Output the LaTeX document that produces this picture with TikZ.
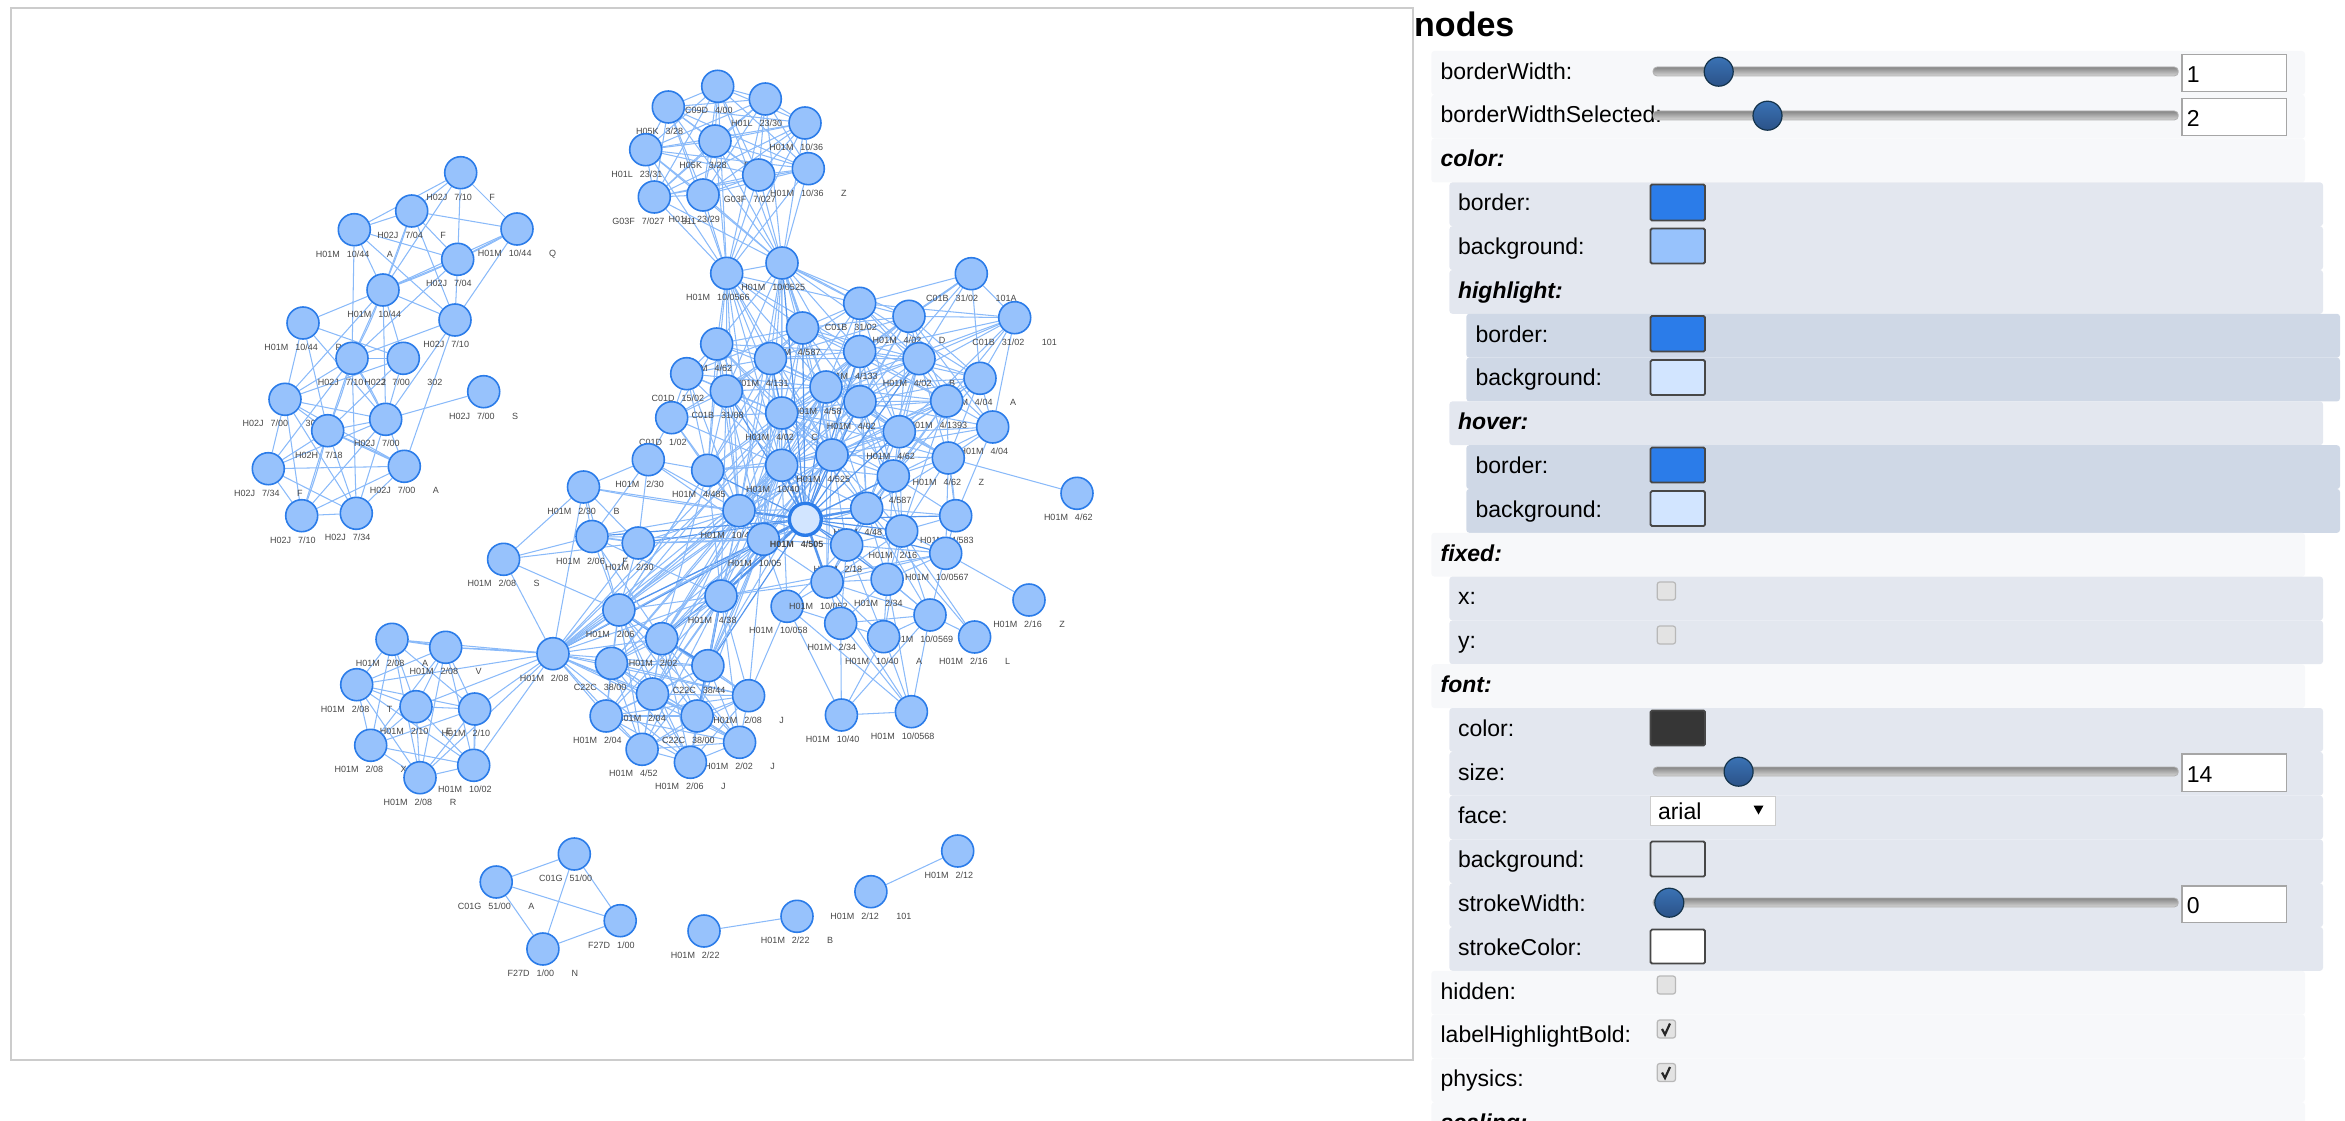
\documentclass[tikz,border=0pt]{standalone}
\usepackage{fontspec}
\setmainfont{Liberation Sans}
\usetikzlibrary{backgrounds}
\definecolor{nodeline}{HTML}{2B7CE9}
\definecolor{nodefill}{HTML}{97C2FC}
\definecolor{nodesel}{HTML}{D2E5FF}
\definecolor{linkcol}{HTML}{8ABAF9}
\definecolor{hlcol}{HTML}{5596EE}
\definecolor{rowone}{HTML}{F7F8FA}
\definecolor{rowtwo}{HTML}{E3E7EF}
\definecolor{rowthree}{HTML}{CFD8E6}
\definecolor{thumbtop}{HTML}{3A72B4}
\definecolor{thumbbot}{HTML}{2B5288}
\definecolor{thumbline}{HTML}{14334B}
\newcommand{\nlab}[3]{#1\hspace{7pt}#2\hspace{17.5pt}#3\null}
\tikzset{
  gnode/.style={circle,draw=nodeline,fill=nodefill,line width=1.6pt,minimum size=32pt,inner sep=0pt},
  lbl/.style={inner sep=0pt,text=black!72,label distance=4pt,font=\fontsize{9}{10}\selectfont},
  gn/.style n args={3}{gnode,label={[lbl]below:\nlab{#1}{#2}{#3}}},
  selnode/.style={fill=nodesel,line width=3.4pt},
  link/.style={draw=linkcol,line width=1.05pt},
  hl/.style={draw=hlcol,line width=1.2pt},
  heavy/.style={draw=hlcol,line width=2.4pt},
  txt/.style={anchor=base west,inner sep=0pt,yshift=-1.2pt,font=\fontsize{23}{26}\selectfont},
  head/.style={txt,font=\fontsize{23}{26}\selectfont\bfseries\itshape},
  rowa/.style={fill=rowone,rounded corners=3pt},
  rowb/.style={fill=rowtwo,rounded corners=3pt},
  rowc/.style={fill=rowthree,rounded corners=3pt},
  track/.style={draw=black!30,top color=black!48,middle color=black!20,bottom color=black!16,rounded corners=4pt,line width=.8pt},
  thumb/.style={circle,draw=thumbline,top color=thumbtop,bottom color=thumbbot,minimum size=29pt,inner sep=0pt,line width=1.2pt},
  numbox/.style={draw=black!35,fill=white,line width=1.2pt},
  swatch/.style={draw=black!72,line width=1.8pt,rounded corners=1.5pt},
  tick/.style={draw=black!28,fill=black!11,line width=1.2pt,rounded corners=2.5pt},
}
\begin{document}
\begin{tikzpicture}[x=1pt,y=-1pt]
    \useasboundingbox (0,0) rectangle (2345,1121);
    \clip (0,0) rectangle (2345,1121);
    \draw[black!20,line width=1.6pt] (11,8) rectangle (1413,1060);
    % left group
    \node[gn={H02J}{7/10}{F}] (a_1) at (460.7,172.7) {};
    \node[gn={H02J}{7/04}{F}] (a_2) at (411.7,211) {};
    \node[gn={H01M}{10/44}{A}] (a_3) at (354.3,229.7) {};
    \node[gn={H01M}{10/44}{Q}] (a_4) at (517,229) {};
    \node[gn={H02J}{7/04}{}] (a_5) at (457.7,259.3) {};
    \node[gn={H01M}{10/44}{}] (a_6) at (383,290) {};
    \node[gn={H02J}{7/10}{}] (a_7) at (455,320) {};
    \node[gn={H01M}{10/44}{P}] (a_8) at (303,323) {};
    \node[gn={H02J}{7/10}{2}] (a_9) at (352,358.3) {};
    \node[gn={H02J}{7/00}{302}] (a_10) at (403.3,358.3) {};
    \node[gn={H02J}{7/00}{S}] (a_11) at (483.7,391.7) {};
    \node[gn={H02J}{7/00}{302D}] (a_12) at (285,399.3) {};
    \node[gn={H02J}{7/00}{}] (a_13) at (385.7,419.3) {};
    \node[gn={H02H}{7/18}{}] (a_14) at (327.7,430.7) {};
    \node[gn={H02J}{7/00}{A}] (a_15) at (404.3,466.3) {};
    \node[gn={H02J}{7/34}{F}] (a_16) at (268.3,468.7) {};
    \node[gn={H02J}{7/10}{}] (a_17) at (301.7,515.7) {};
    \node[gn={H02J}{7/34}{}] (a_18) at (356.3,513.3) {};
    % top group
    \node[gn={C09D}{4/00}{}] (b_1) at (717.7,86.3) {};
    \node[gn={H05K}{3/28}{}] (b_2) at (668.3,107) {};
    \node[gn={H01L}{23/30}{}] (b_3) at (765.3,99) {};
    \node[gn={H01M}{10/36}{}] (b_4) at (805,123) {};
    \node[gn={H01L}{23/31}{}] (b_5) at (645.7,149.7) {};
    \node[gn={H05K}{3/28}{D}] (b_6) at (715,141) {};
    \node[gn={H01M}{10/36}{Z}] (b_7) at (808.3,168.7) {};
    \node[gn={G03F}{7/027}{}] (b_8) at (758.7,175) {};
    \node[gn={G03F}{7/027}{311}] (b_9) at (654.3,197) {};
    \node[gn={H01L}{23/29}{}] (b_10) at (703,195) {};
    \node[gn={H01M}{10/0566}{}] (b_11) at (726.7,273.3) {};
    \node[gn={H01M}{10/0525}{}] (b_12) at (782,263) {};
    % centre group
    \node[gn={C01B}{31/02}{101A}] (c_1) at (971.3,273.7) {};
    \node[gn={C01B}{31/02}{}] (c_2) at (859.7,303.3) {};
    \node[gn={H01M}{4/02}{D}] (c_3) at (909,316.3) {};
    \node[gn={C01B}{31/02}{101}] (c_4) at (1014.7,317.7) {};
    \node[gn={H01M}{4/587}{}] (c_5) at (802.5,328) {};
    \node[gn={H01M}{4/62}{}] (c_6) at (716.7,344) {};
    \node[gn={H01M}{4/131}{}] (c_7) at (770.5,358.5) {};
    \node[gn={H01M}{4/133}{}] (c_8) at (859.7,351.5) {};
    \node[gn={H01M}{4/02}{B}] (c_9) at (919,358.7) {};
    \node[gn={C01D}{15/02}{}] (c_10) at (686.7,373.7) {};
    \node[gn={H01M}{4/04}{A}] (c_11) at (980,378.3) {};
    \node[gn={C01B}{31/08}{}] (c_12) at (726.3,391) {};
    \node[gn={H01M}{4/58}{}] (c_13) at (826,387) {};
    \node[gn={H01M}{4/02}{}] (c_14) at (860,401.7) {};
    \node[gn={H01M}{4/1393}{}] (c_15) at (946.7,401) {};
    \node[gn={H01M}{4/02}{C}] (c_16) at (781.7,413) {};
    \node[gn={C01D}{1/02}{}] (c_17) at (671.7,417.7) {};
    \node[gn={H01M}{4/04}{}] (c_18) at (992.7,427) {};
    \node[gn={H01M}{4/62}{}] (c_19) at (899.3,431.7) {};
    \node[gn={H01M}{4/62}{Z}] (c_20) at (948.3,458) {};
    \node[gn={H01M}{4/525}{}] (c_21) at (832,455) {};
    \node[gn={H01M}{10/40}{}] (c_22) at (781.7,465.3) {};
    \node[gn={H01M}{2/30}{}] (c_23) at (648.3,459.7) {};
    \node[gn={H01M}{4/485}{}] (c_24) at (707.7,470.3) {};
    \node[gn={H01M}{4/587}{}] (c_25) at (893.3,476) {};
    \node[gn={H01M}{10/40}{Z}] (c_26) at (739,510.7) {};
    \node[gn={H01M}{4/48}{}] (c_28) at (866.7,508.3) {};
    \node[gn={H01M}{4/583}{}] (c_29) at (955.7,515.7) {};
    \node[gn={H01M}{2/16}{}] (c_30) at (901.7,531) {};
    \node[gn={H01M}{10/05}{}] (c_31) at (763.3,539.3) {};
    \node[gn={H01M}{2/18}{}] (c_32) at (846.7,545) {};
    \node[gn={H01M}{10/0567}{}] (c_33) at (945.7,553.3) {};
    \node[gn={H01M}{4/62}{}] (c_34) at (1077,493.3) {};
    \node[gn={\textbf{H01M}}{\textbf{4/505}}{},selnode] (c_27) at (805.3,519.3) {};
    % lower group
    \node[gn={H01M}{2/30}{B}] (d_1) at (583.5,487) {};
    \node[gn={H01M}{2/06}{F}] (d_2) at (592,536.5) {};
    \node[gn={H01M}{2/30}{}] (d_3) at (638.2,543) {};
    \node[gn={H01M}{2/08}{S}] (d_4) at (503.6,559.3) {};
    \node[gn={H01M}{4/38}{}] (d_5) at (721,596) {};
    \node[gn={H01M}{2/06}{}] (d_6) at (618.9,610) {};
    \node[gn={H01M}{10/058}{}] (d_7) at (787.1,606.3) {};
    \node[gn={H01M}{10/052}{}] (d_8) at (827.1,582) {};
    \node[gn={H01M}{2/34}{}] (d_9) at (887.1,579.3) {};
    \node[gn={H01M}{10/0569}{}] (d_10) at (930,615) {};
    \node[gn={H01M}{2/34}{}] (d_11) at (840.7,623.3) {};
    \node[gn={H01M}{10/40}{A}] (d_12) at (883.6,636.7) {};
    \node[gn={H01M}{2/16}{L}] (d_13) at (974.6,637) {};
    \node[gn={H01M}{2/16}{Z}] (d_14) at (1029,600) {};
    \node[gn={H01M}{2/08}{}] (d_15) at (553,653.7) {};
    \node[gn={C22C}{38/00}{3}] (d_17) at (611.4,663.3) {};
    \node[gn={H01M}{2/02}{}] (d_16) at (661.8,638.7) {};
    \node[gn={C22C}{38/44}{}] (d_18) at (707.9,665.7) {};
    \node[gn={H01M}{2/04}{J}] (d_19) at (652.5,694) {};
    \node[gn={H01M}{2/08}{J}] (d_20) at (748.6,695.7) {};
    \node[gn={H01M}{2/04}{}] (d_21) at (606.1,716) {};
    \node[gn={C22C}{38/00}{}] (d_22) at (697.1,716) {};
    \node[gn={H01M}{10/40}{}] (d_23) at (841.4,715) {};
    \node[gn={H01M}{10/0568}{}] (d_24) at (911.4,711.7) {};
    \node[gn={H01M}{2/02}{J}] (d_25) at (739.6,742.3) {};
    \node[gn={H01M}{4/52}{}] (d_26) at (642.1,749.3) {};
    \node[gn={H01M}{2/06}{J}] (d_27) at (690.4,762.3) {};
    % lower left group
    \node[gn={H01M}{2/08}{A}] (f_1) at (392,639.3) {};
    \node[gn={H01M}{2/08}{V}] (f_2) at (445.7,647.3) {};
    \node[gn={H01M}{2/08}{T}] (f_3) at (356.7,684.7) {};
    \node[gn={H01M}{2/10}{E}] (f_4) at (416,706.7) {};
    \node[gn={H01M}{2/10}{}] (f_5) at (474.7,709) {};
    \node[gn={H01M}{2/08}{X}] (f_6) at (370.7,745.3) {};
    \node[gn={H01M}{10/02}{}] (f_7) at (473.7,765.3) {};
    \node[gn={H01M}{2/08}{R}] (f_8) at (420,777.7) {};
    % small groups
    \node[gn={C01G}{51/00}{A}] (g_1) at (496.2,882) {};
    \node[gn={C01G}{51/00}{}] (g_2) at (574.3,854) {};
    \node[gn={F27D}{1/00}{}] (g_3) at (620.2,920.7) {};
    \node[gn={F27D}{1/00}{N}] (g_4) at (542.9,949) {};
    \node[gn={H01M}{2/22}{}] (g_5) at (704,931) {};
    \node[gn={H01M}{2/22}{B}] (g_6) at (797,916.3) {};
    \node[gn={H01M}{2/12}{101}] (g_7) at (870.9,891.7) {};
    \node[gn={H01M}{2/12}{}] (g_8) at (957.7,851) {};
    \begin{pgfonlayer}{background}
    \path[link]
      (a_1) edge (a_2) edge (a_3) edge (a_4) edge (a_5) edge (a_6)
      (a_2) edge (a_3) edge (a_4) edge (a_5) edge (a_6) edge [bend left=2] (a_6) edge (a_7)
      (a_3) edge (a_5) edge (a_6) edge (a_7) edge (a_9)
      (a_4) edge (a_5) edge [bend left=2] (a_5) edge (a_6) edge (a_7)
      (a_5) edge (a_6) edge [bend left=2] (a_6) edge (a_7) edge (a_9)
      (a_6) edge (a_7) edge (a_8) edge (a_9) edge [bend left=3] (a_9) edge (a_10) edge (a_13) edge (a_12)
      (a_7) edge (a_9) edge (a_13) edge (a_15)
      (a_8) edge (a_10) edge (a_12) edge (a_14) edge (a_13)
      (a_9) edge (a_10) edge (a_12) edge (a_13) edge [bend left=3] (a_13) edge (a_14) edge [bend left=3] (a_14) edge (a_16) edge (a_18)
      (a_10) edge (a_12) edge (a_13) edge (a_14)
      (a_11) edge (a_13)
      (a_12) edge (a_13) edge (a_14) edge (a_15) edge (a_16) edge (a_17) edge (a_18)
      (a_13) edge (a_14) edge (a_15) edge (a_16) edge (a_17) edge (a_18)
      (a_14) edge (a_15) edge [bend left=2] (a_15) edge (a_16) edge (a_17) edge [bend left=3] (a_17) edge (a_18)
      (a_15) edge (a_16) edge (a_17) edge (a_18)
      (a_16) edge (a_17) edge (a_18)
      (a_17) edge (a_18);
    \path[link]
      (b_1) edge (b_2) edge (b_3) edge (b_4) edge (b_5) edge (b_6) edge (b_7) edge (b_8) edge (b_9) edge (b_10) edge (b_11) edge (b_12)
      (b_2) edge (b_3) edge (b_4) edge (b_5) edge (b_6) edge (b_7) edge (b_8) edge (b_9) edge (b_10) edge (b_11) edge (b_12)
      (b_3) edge (b_4) edge (b_5) edge (b_6) edge (b_7) edge (b_8) edge (b_9) edge (b_10) edge (b_11) edge (b_12)
      (b_4) edge (b_5) edge (b_6) edge (b_7) edge (b_8) edge (b_9) edge (b_10) edge (b_11) edge (b_12)
      (b_5) edge (b_6) edge (b_7) edge (b_8) edge (b_9) edge (b_10) edge (b_11) edge (b_12)
      (b_6) edge (b_7) edge (b_8) edge (b_9) edge (b_10) edge (b_11) edge (b_12)
      (b_7) edge (b_8) edge (b_9) edge (b_10) edge (b_11) edge (b_12)
      (b_8) edge (b_9) edge (b_10) edge (b_11) edge (b_12)
      (b_9) edge (b_10) edge (b_11) edge (b_12)
      (b_10) edge (b_11) edge (b_12)
      (b_11) edge (b_12) edge (c_6) edge (c_7) edge (c_5) edge (c_12) edge (c_16) edge (c_13) edge (c_22) edge (c_24) edge (c_26) edge (c_31) edge (c_8) edge (c_21) edge (c_2)
      (b_12) edge (c_2) edge [bend left=2] (c_2) edge (c_5) edge [bend left=2] (c_5) edge (c_3) edge (c_8) edge (c_7) edge (c_6) edge (c_13) edge (c_16) edge (c_21) edge (c_14) edge (c_9) edge (c_22) edge (c_26) edge (c_31) edge (c_12);
    \path[link]
      (c_1) edge (c_2) edge (c_3) edge [bend left=2] (c_3) edge (c_4) edge (c_8) edge (c_9) edge (c_11) edge (c_14)
      (c_2) edge (c_3) edge (c_4) edge (c_5) edge (c_7) edge (c_8) edge (c_9) edge (c_11) edge (c_13) edge (c_14) edge (c_15) edge (c_16) edge (c_19) edge (c_21)
      (c_3) edge (c_4) edge (c_5) edge (c_7) edge (c_8) edge (c_9) edge (c_11) edge (c_13) edge (c_14) edge (c_15) edge (c_16) edge (c_18) edge (c_19) edge (c_21) edge (c_22)
      (c_4) edge (c_8) edge (c_9) edge (c_11) edge (c_14) edge (c_15) edge (c_18) edge (c_19) edge (c_13)
      (c_5) edge (c_6) edge (c_7) edge (c_8) edge (c_9) edge (c_12) edge (c_13) edge (c_14) edge (c_16) edge (c_21) edge (c_22) edge (c_24) edge (c_10) edge (c_15)
      (c_6) edge (c_7) edge (c_8) edge (c_10) edge (c_12) edge (c_13) edge (c_16) edge (c_17) edge (c_22) edge (c_26) edge (c_24) edge (c_21)
      (c_7) edge (c_8) edge (c_9) edge (c_10) edge (c_12) edge (c_13) edge (c_14) edge (c_16) edge (c_21) edge (c_22) edge (c_24) edge (c_26) edge (c_31) edge (c_17)
      (c_8) edge (c_9) edge (c_11) edge (c_13) edge (c_14) edge (c_15) edge (c_16) edge (c_19) edge (c_21) edge (c_22) edge (c_25) edge (c_26) edge (c_28)
      (c_9) edge (c_11) edge (c_13) edge (c_14) edge (c_15) edge (c_16) edge (c_18) edge (c_19) edge (c_20) edge (c_21) edge (c_25) edge (c_28)
      (c_10) edge (c_12) edge (c_16) edge (c_17) edge (c_24) edge (c_22) edge (c_13) edge (c_26)
      (c_11) edge (c_14) edge (c_15) edge (c_18) edge (c_19) edge (c_20) edge (c_13) edge (c_25) edge (c_21)
      (c_12) edge (c_13) edge (c_16) edge (c_17) edge (c_22) edge (c_24) edge (c_26) edge (c_31) edge (c_21) edge (d_5)
      (c_13) edge (c_14) edge (c_15) edge (c_16) edge (c_19) edge (c_20) edge (c_21) edge (c_22) edge (c_24) edge (c_25) edge (c_26) edge (c_28) edge (c_31) edge (d_8)
      (c_14) edge (c_15) edge (c_16) edge (c_18) edge (c_19) edge (c_20) edge (c_21) edge (c_22) edge (c_25) edge (c_26) edge (c_28) edge (c_30) edge (c_31)
      (c_15) edge (c_16) edge (c_18) edge (c_19) edge (c_20) edge (c_21) edge (c_25) edge (c_28) edge (c_30) edge (c_22)
      (c_16) edge (c_17) edge (c_19) edge (c_20) edge (c_21) edge (c_22) edge (c_24) edge (c_25) edge (c_26) edge (c_28) edge (c_31) edge (d_5)
      (c_17) edge (c_23) edge (c_24) edge (c_22) edge (c_26)
      (c_18) edge (c_19) edge (c_20) edge (c_25) edge (c_29) edge (c_21)
      (c_19) edge (c_20) edge (c_21) edge (c_22) edge (c_25) edge (c_28) edge (c_26) edge (c_30)
      (c_20) edge (c_21) edge (c_25) edge (c_29) edge [bend left=2] (c_29) edge (c_30) edge (c_33) edge (c_28) edge (c_34)
      (c_21) edge (c_22) edge (c_24) edge (c_25) edge (c_26) edge (c_28) edge (c_30) edge (c_31) edge (c_32) edge (d_5) edge (d_8)
      (c_22) edge (c_24) edge (c_25) edge (c_26) edge (c_28) edge (c_31) edge (c_32) edge (d_5) edge (d_6) edge (d_7)
      (c_23) edge (c_24) edge (c_26) edge (c_31) edge (d_1) edge (d_2) edge (d_3)
      (c_24) edge (c_26) edge (c_31) edge (c_22) edge (d_5) edge (d_6) edge (d_16)
      (c_25) edge (c_28) edge (c_30) edge (c_29) edge (c_31) edge (d_8) edge (c_32) edge (d_9)
      (c_26) edge (c_28) edge (c_31) edge (c_32) edge (d_1) edge [bend left=2] (d_1) edge (d_2) edge (d_3) edge (d_5) edge (d_6) edge (d_15) edge (d_16) edge (d_18) edge (d_17) edge (d_19)
      (c_28) edge (c_29) edge (c_30) edge (c_32) edge (c_31) edge (d_8) edge (d_9) edge (d_10) edge (d_13)
      (c_29) edge (c_30) edge (c_33)
      (c_30) edge (c_32) edge (c_33) edge (d_8) edge (d_9) edge (d_10) edge (d_12) edge (d_13)
      (c_31) edge (c_32) edge (d_2) edge (d_3) edge [bend left=1] (d_3) edge (d_5) edge [bend left=2] (d_5) edge (d_6) edge (d_7) edge (d_8) edge (d_15) edge (d_16) edge (d_17) edge (d_18) edge [bend left=2] (d_18) edge (d_19) edge (d_20) edge (d_22)
      (c_32) edge (c_33) edge (d_7) edge (d_8) edge (d_9) edge (d_10) edge (d_11) edge (d_12)
      (c_33) edge (d_8) edge (d_9) edge (d_10) edge (d_14) edge (d_5);
    \path[hl]
      (c_27) edge (c_21) edge (c_13) edge (c_16) edge (c_14) edge (c_24) edge (c_30) edge (c_32) edge (c_25) edge (c_8) edge (c_19) edge (c_29) edge (c_33) edge (d_9) edge (d_6) edge (d_16) edge (d_15) edge (d_18) edge (c_12) edge (c_5) edge (c_7) edge (c_9) edge (d_2) edge (d_3) edge (b_12);
    \path[heavy] (c_27) edge (c_26) edge (c_31) edge (c_22) edge (c_28) edge (d_8) edge (d_5);
    \path[link]
      (d_1) edge (d_2) edge (d_3) edge (d_4) edge (d_6) edge (d_15)
      (d_2) edge (d_3) edge [bend left=2] (d_3) edge (d_4) edge (d_5) edge (d_6) edge (d_16)
      (d_3) edge (d_6) edge (d_15)
      (d_4) edge (d_3) edge (d_6) edge (d_15)
      (d_5) edge (d_6) edge (d_15) edge (d_16) edge (d_17) edge [heavy] (d_18) edge (d_19) edge (d_20) edge (d_21) edge (d_22) edge (d_25) edge (d_26) edge (d_27) edge (d_8)
      (d_6) edge (d_15) edge [bend left=2] (d_15) edge [heavy] (d_16) edge (d_17) edge (d_18) edge (d_19) edge (d_20) edge (d_21) edge (d_22) edge (d_25) edge (d_26) edge (d_27) edge (c_22) edge (c_21) edge (c_16) edge (c_24)
      (d_7) edge (d_11) edge (d_23) edge (d_24) edge (d_20)
      (d_8) edge (d_9) edge (d_10) edge (d_11) edge (d_12) edge (d_24) edge (d_7)
      (d_9) edge (d_10) edge (d_11) edge (d_12) edge (d_24)
      (d_10) edge (d_11) edge (d_12) edge (d_13) edge (d_23) edge (d_24)
      (d_11) edge (d_12) edge (d_23) edge (d_24)
      (d_12) edge (d_23) edge (d_24)
      (d_23) edge (d_24)
      (d_15) edge (d_16) edge (d_17) edge (d_18) edge (d_19) edge (d_20) edge (d_21) edge (d_22) edge (d_25) edge (d_26) edge (d_27) edge (c_31) edge (c_22) edge (c_21) edge (c_16) edge (c_13)
      (d_16) edge (d_17) edge [heavy] (d_18) edge (d_19) edge (d_20) edge (d_21) edge (d_22) edge (d_25) edge (d_26) edge (d_27) edge (c_22) edge (c_21) edge (c_13)
      (d_17) edge (d_18) edge (d_19) edge (d_20) edge (d_21) edge (d_22) edge (d_25) edge (d_26) edge (d_27) edge (c_22)
      (d_18) edge (d_19) edge (d_20) edge (d_21) edge [heavy] (d_22) edge (d_25) edge (d_26) edge (d_27) edge (c_22) edge (c_21)
      (d_19) edge (d_20) edge (d_21) edge (d_22) edge (d_25) edge (d_26) edge (d_27) edge (c_22)
      (d_20) edge (d_21) edge (d_22) edge (d_25) edge (d_26) edge (d_27)
      (d_21) edge (d_22) edge (d_25) edge (d_26) edge (d_27)
      (d_22) edge (d_25) edge (d_26) edge (d_27)
      (d_25) edge (d_26) edge (d_27)
      (d_26) edge (d_27);
    \path[link]
      (f_1) edge (f_2) edge [bend left=2] (f_2) edge (f_3) edge (f_4) edge (f_5) edge (f_6) edge (f_8) edge (d_15)
      (f_2) edge (f_3) edge (f_4) edge (f_5) edge (f_6) edge (f_7) edge (f_8) edge (d_15) edge [bend left=1] (d_15)
      (f_3) edge (f_4) edge (f_5) edge (f_6) edge (f_7) edge (f_8) edge (d_15)
      (f_4) edge (f_5) edge (f_6) edge (f_7) edge (f_8) edge (d_15)
      (f_5) edge (f_6) edge (f_7) edge [bend left=2] (f_7) edge (f_8) edge (d_15)
      (f_6) edge (f_7) edge (f_8)
      (f_7) edge (f_8) edge (d_15)
      (f_8) edge (d_15);
    \path[link]
      (g_1) edge (g_2) edge (g_3) edge (g_4)
      (g_2) edge (g_3) edge (g_4)
      (g_3) edge (g_4)
      (g_5) edge (g_6)
      (g_7) edge (g_8);
    \end{pgfonlayer}
    % option panel
    \node[anchor=base west,inner sep=0pt,font=\fontsize{34}{36}\selectfont\bfseries] (title) at (1414,37) {nodes};
    \fill[rowa] (1431.3,51) rectangle (2305,94.8);
    \fill[rowa] (1431.3,94.8) rectangle (2305,138.6);
    \fill[rowa] (1431.3,138.6) rectangle (2305,182.4);
    \fill[rowb] (1449.4,182.4) rectangle (2323,226.2);
    \fill[rowb] (1449.4,226.2) rectangle (2323,270);
    \fill[rowb] (1449.4,270) rectangle (2323,313.8);
    \fill[rowc] (1466.3,313.8) rectangle (2340,357.6);
    \fill[rowc] (1466.3,357.6) rectangle (2340,401.4);
    \fill[rowb] (1449.4,401.4) rectangle (2323,445.2);
    \fill[rowc] (1466.3,445.2) rectangle (2340,489);
    \fill[rowc] (1466.3,489) rectangle (2340,532.8);
    \fill[rowa] (1431.3,532.8) rectangle (2305,576.6);
    \fill[rowb] (1449.4,576.6) rectangle (2323,620.4);
    \fill[rowb] (1449.4,620.4) rectangle (2323,664.2);
    \fill[rowa] (1431.3,664.2) rectangle (2305,708);
    \fill[rowb] (1449.4,708) rectangle (2323,751.8);
    \fill[rowb] (1449.4,751.8) rectangle (2323,795.6);
    \fill[rowb] (1449.4,795.6) rectangle (2323,839.4);
    \fill[rowb] (1449.4,839.4) rectangle (2323,883.2);
    \fill[rowb] (1449.4,883.2) rectangle (2323,927);
    \fill[rowb] (1449.4,927) rectangle (2323,970.8);
    \fill[rowa] (1431.3,970.8) rectangle (2305,1014.6);
    \fill[rowa] (1431.3,1014.6) rectangle (2305,1058.4);
    \fill[rowa] (1431.3,1058.4) rectangle (2305,1102.2);
    \fill[rowa] (1431.3,1102.2) rectangle (2305,1146);
    \node[txt] (t_0) at (1440.4,78) {borderWidth:};
    \node[txt] (t_1) at (1440.4,121.8) {borderWidthSelected:};
    \node[head] (t_2) at (1440.4,165.6) {color:};
    \node[txt] (t_3) at (1457.8,209.4) {border:};
    \node[txt] (t_4) at (1457.8,253.2) {background:};
    \node[head] (t_5) at (1457.8,297) {highlight:};
    \node[txt] (t_6) at (1475.3,340.8) {border:};
    \node[txt] (t_7) at (1475.3,384.6) {background:};
    \node[head] (t_8) at (1457.8,428.4) {hover:};
    \node[txt] (t_9) at (1475.3,472.2) {border:};
    \node[txt] (t_10) at (1475.3,516) {background:};
    \node[head] (t_11) at (1440.4,559.8) {fixed:};
    \node[txt] (t_12) at (1457.8,603.6) {x:};
    \node[txt] (t_13) at (1457.8,647.4) {y:};
    \node[head] (t_14) at (1440.4,691.2) {font:};
    \node[txt] (t_15) at (1457.8,735) {color:};
    \node[txt] (t_16) at (1457.8,778.8) {size:};
    \node[txt] (t_17) at (1457.8,822.6) {face:};
    \node[txt] (t_18) at (1457.8,866.4) {background:};
    \node[txt] (t_19) at (1457.8,910.2) {strokeWidth:};
    \node[txt] (t_20) at (1457.8,954) {strokeColor:};
    \node[txt] (t_21) at (1440.4,997.8) {hidden:};
    \node[txt] (t_22) at (1440.4,1041.6) {labelHighlightBold:};
    \node[txt] (t_23) at (1440.4,1085.4) {physics:};
    \node[head] (t_24) at (1440.4,1129.2) {scaling:};
    % sliders
    \draw[track] (1653,67) rectangle (2178.3,76);
    \draw[track] (1653,111) rectangle (2178.3,120);
    \draw[track] (1653,767) rectangle (2178.3,776);
    \draw[track] (1653,898) rectangle (2178.3,907);
    \node[thumb] (s_0) at (1718.7,71.7) {};
    \node[thumb] (s_1) at (1767.5,115.7) {};
    \node[thumb] (s_2) at (1738.6,771.7) {};
    \node[thumb] (s_3) at (1669.3,902.7) {};
    \draw[numbox] (2182,54.3) rectangle (2286.7,91.7);
    \draw[numbox] (2182,98.3) rectangle (2286.7,135.3);
    \draw[numbox] (2182,754) rectangle (2286.7,791.7);
    \draw[numbox] (2182,886) rectangle (2286.7,922.7);
    \node[txt] (v_0) at (2186.7,81) {1};
    \node[txt] (v_1) at (2186.7,125) {2};
    \node[txt] (v_2) at (2186.7,781) {14};
    \node[txt] (v_3) at (2186.7,912) {0};
    % colour fields
    \filldraw[swatch,fill=nodeline] (1650.5,184.5) rectangle (1705,220.5);
    \filldraw[swatch,fill=nodefill] (1650.5,228.5) rectangle (1705,263.5);
    \filldraw[swatch,fill=nodeline] (1650.5,316) rectangle (1705,351.5);
    \filldraw[swatch,fill=nodesel] (1650.5,360) rectangle (1705,395);
    \filldraw[swatch,fill=nodeline] (1650.5,447.5) rectangle (1705,482.5);
    \filldraw[swatch,fill=nodesel] (1650.5,491) rectangle (1705,526);
    \filldraw[swatch,fill=black!79] (1650.5,710.5) rectangle (1705,745.5);
    \draw[swatch] (1650.5,841.5) rectangle (1705,876.5);
    \filldraw[swatch,fill=white] (1650.5,929.5) rectangle (1705,963.5);
    % check boxes
    \filldraw[tick] (1657.2,582) rectangle (1675.5,600);
    \filldraw[tick] (1657.2,626) rectangle (1675.5,644);
    \filldraw[tick] (1657.2,976) rectangle (1675.5,994);
    \filldraw[tick] (1657.2,1020) rectangle (1675.5,1038);
    \filldraw[tick] (1657.2,1063.5) rectangle (1675.5,1081.5);
    \draw[black!85,line width=2.2pt] (1662,1029) -- (1665,1034.5) -- (1670,1023.5);
    \draw[black!85,line width=2.2pt] (1662,1072.5) -- (1665,1078) -- (1670,1067);
    % face selector
    \draw[draw=black!20,fill=white,line width=1pt] (1650,796) rectangle (1775.3,825);
    \node[txt] (v_4) at (1657.8,818) {arial};
    \fill[black] (1753.5,805.5) -- (1763.5,805.5) -- (1758.5,814.5) -- cycle;
\end{tikzpicture}
\end{document}
